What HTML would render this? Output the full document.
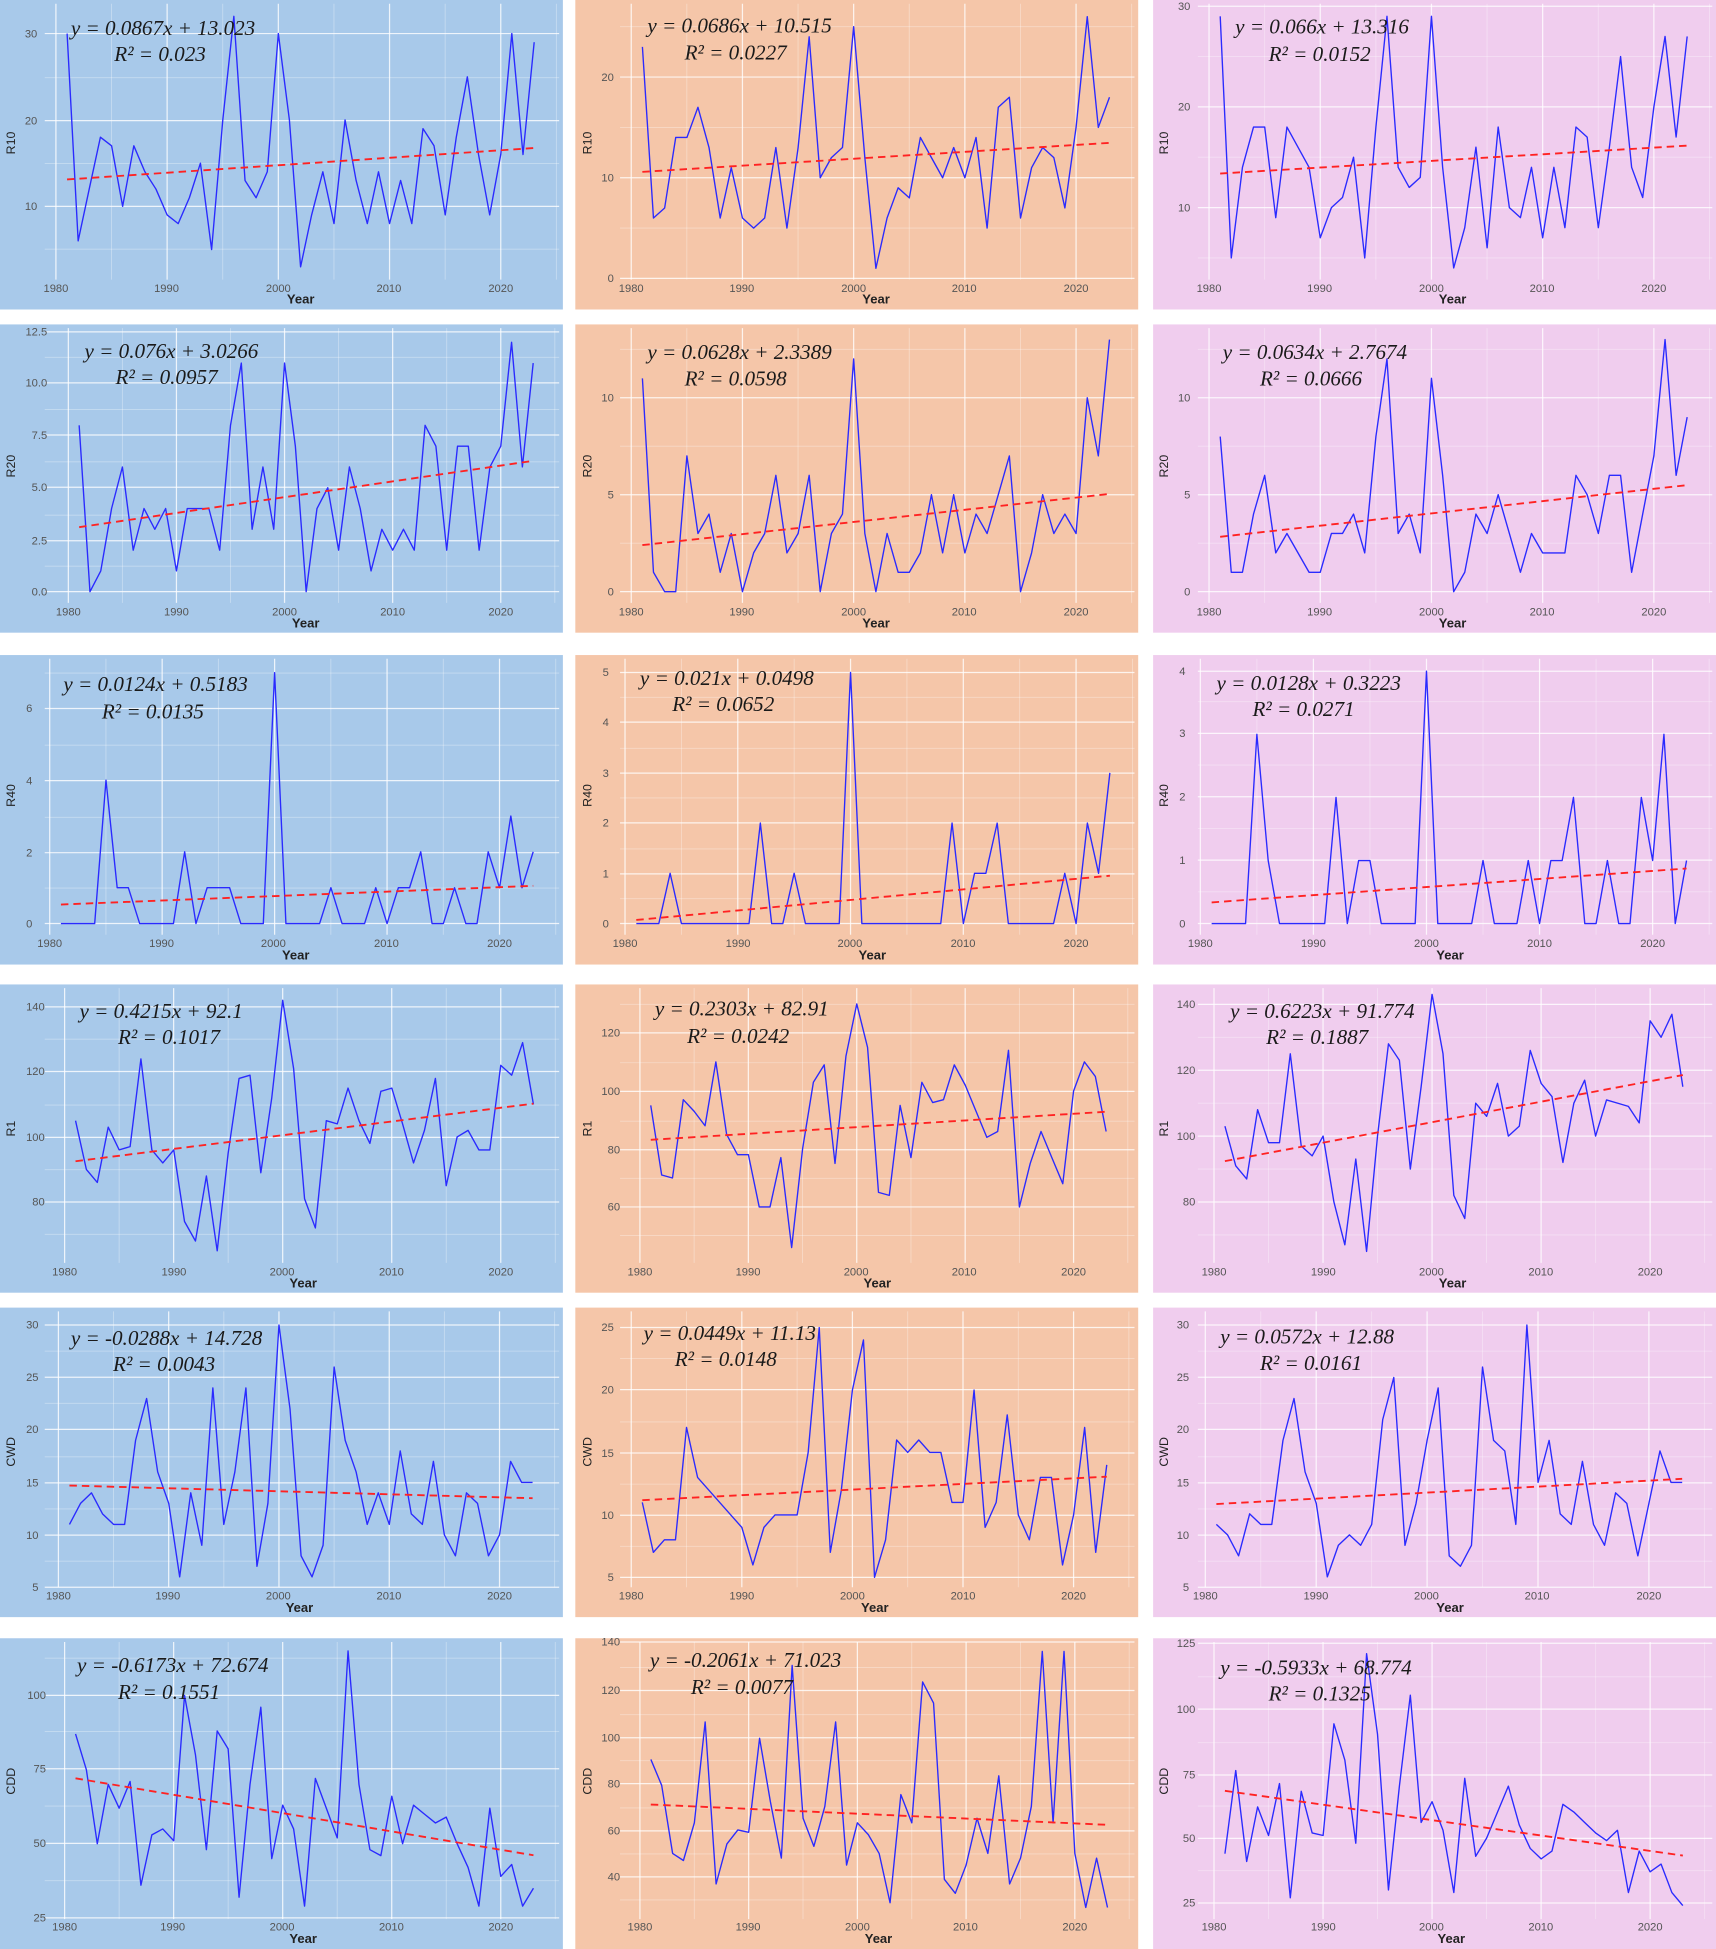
<!DOCTYPE html>
<html><head><meta charset="utf-8"><style>
html,body{margin:0;padding:0;background:#fff;}
svg{display:block;}
.t{font-family:"Liberation Sans",sans-serif;font-size:9px;fill:#555;}
.tk{text-anchor:end;}
.xt{text-anchor:middle;}
.yr{font-family:"Liberation Sans",sans-serif;font-size:10.5px;font-weight:bold;fill:#222;text-anchor:middle;}
.yl{font-family:"Liberation Sans",sans-serif;font-size:10px;fill:#222;text-anchor:middle;}
.eq{font-family:"Liberation Serif",serif;font-style:italic;font-size:17px;fill:#1a1a1a;}
</style></head><body>
<svg id="s" width="1716" height="1949" viewBox="0 0 1381 1568" preserveAspectRatio="none" xmlns="http://www.w3.org/2000/svg">
<g id="bg"></g>
<g id="tx">
<g class="t xt">
<text x="45" y="235">1980</text><text x="134" y="235">1990</text><text x="224" y="235">2000</text><text x="313" y="235">2010</text><text x="403" y="235">2020</text>
<text x="508" y="235">1980</text><text x="597" y="235">1990</text><text x="687" y="235">2000</text><text x="776" y="235">2010</text><text x="866" y="235">2020</text>
<text x="973" y="235">1980</text><text x="1062" y="235">1990</text><text x="1152" y="235">2000</text><text x="1241" y="235">2010</text><text x="1331" y="235">2020</text>
<text x="55" y="495">1980</text><text x="142" y="495">1990</text><text x="229" y="495">2000</text><text x="316" y="495">2010</text><text x="403" y="495">2020</text>
<text x="508" y="495">1980</text><text x="597" y="495">1990</text><text x="687" y="495">2000</text><text x="776" y="495">2010</text><text x="866" y="495">2020</text>
<text x="973" y="495">1980</text><text x="1062" y="495">1990</text><text x="1152" y="495">2000</text><text x="1241" y="495">2010</text><text x="1331" y="495">2020</text>
<text x="40" y="762">1980</text><text x="130" y="762">1990</text><text x="220" y="762">2000</text><text x="311" y="762">2010</text><text x="402" y="762">2020</text>
<text x="503" y="762">1980</text><text x="594" y="762">1990</text><text x="684" y="762">2000</text><text x="775" y="762">2010</text><text x="866" y="762">2020</text>
<text x="966" y="762">1980</text><text x="1057" y="762">1990</text><text x="1148" y="762">2000</text><text x="1239" y="762">2010</text><text x="1330" y="762">2020</text>
<text x="52" y="1026">1980</text><text x="140" y="1026">1990</text><text x="227" y="1026">2000</text><text x="315" y="1026">2010</text><text x="403" y="1026">2020</text>
<text x="515" y="1026">1980</text><text x="602" y="1026">1990</text><text x="689" y="1026">2000</text><text x="776" y="1026">2010</text><text x="864" y="1026">2020</text>
<text x="977" y="1026">1980</text><text x="1065" y="1026">1990</text><text x="1152" y="1026">2000</text><text x="1240" y="1026">2010</text><text x="1328" y="1026">2020</text>
<text x="47" y="1287">1980</text><text x="135" y="1287">1990</text><text x="224" y="1287">2000</text><text x="313" y="1287">2010</text><text x="402" y="1287">2020</text>
<text x="508" y="1287">1980</text><text x="597" y="1287">1990</text><text x="686" y="1287">2000</text><text x="775" y="1287">2010</text><text x="864" y="1287">2020</text>
<text x="970" y="1287">1980</text><text x="1059" y="1287">1990</text><text x="1148" y="1287">2000</text><text x="1237" y="1287">2010</text><text x="1327" y="1287">2020</text>
<text x="52" y="1553">1980</text><text x="139" y="1553">1990</text><text x="227" y="1553">2000</text><text x="315" y="1553">2010</text><text x="403" y="1553">2020</text>
<text x="515" y="1553">1980</text><text x="602" y="1553">1990</text><text x="690" y="1553">2000</text><text x="777" y="1553">2010</text><text x="865" y="1553">2020</text>
<text x="977" y="1553">1980</text><text x="1065" y="1553">1990</text><text x="1152" y="1553">2000</text><text x="1240" y="1553">2010</text><text x="1328" y="1553">2020</text>
</g>
<g class="yr">
<text x="242" y="244">Year</text><text x="705" y="244">Year</text><text x="1169" y="244">Year</text>
<text x="246" y="505">Year</text><text x="705" y="505">Year</text><text x="1169" y="505">Year</text>
<text x="238" y="772">Year</text><text x="702" y="772">Year</text><text x="1167" y="772">Year</text>
<text x="244" y="1036">Year</text><text x="706" y="1036">Year</text><text x="1169" y="1036">Year</text>
<text x="241" y="1297">Year</text><text x="704" y="1297">Year</text><text x="1167" y="1297">Year</text>
<text x="244" y="1563">Year</text><text x="707" y="1563">Year</text><text x="1168" y="1563">Year</text>
</g>
<g class="yl">
<text transform="translate(12,115) rotate(-90)">R10</text><text transform="translate(476,115) rotate(-90)">R10</text><text transform="translate(940,115) rotate(-90)">R10</text>
<text transform="translate(12,375) rotate(-90)">R20</text><text transform="translate(476,375) rotate(-90)">R20</text><text transform="translate(940,375) rotate(-90)">R20</text>
<text transform="translate(12,640) rotate(-90)">R40</text><text transform="translate(476,640) rotate(-90)">R40</text><text transform="translate(940,640) rotate(-90)">R40</text>
<text transform="translate(12,908) rotate(-90)">R1</text><text transform="translate(476,908) rotate(-90)">R1</text><text transform="translate(940,908) rotate(-90)">R1</text>
<text transform="translate(12,1168) rotate(-90)">CWD</text><text transform="translate(476,1168) rotate(-90)">CWD</text><text transform="translate(940,1168) rotate(-90)">CWD</text>
<text transform="translate(12,1433) rotate(-90)">CDD</text><text transform="translate(476,1433) rotate(-90)">CDD</text><text transform="translate(940,1433) rotate(-90)">CDD</text>
</g>
<g class="t tk">
<text x="30" y="169">10</text><text x="30" y="100">20</text><text x="30" y="30">30</text>
<text x="494" y="227">0</text><text x="494" y="146">10</text><text x="494" y="65">20</text>
<text x="958" y="170">10</text><text x="958" y="89">20</text><text x="958" y="8">30</text>
<text x="38" y="479">0.0</text><text x="38" y="438">2.5</text><text x="38" y="395">5.0</text><text x="38" y="353">7.5</text><text x="38" y="311">10.0</text><text x="38" y="270">12.5</text>
<text x="494" y="479">0</text><text x="494" y="401">5</text><text x="494" y="323">10</text>
<text x="958" y="479">0</text><text x="958" y="401">5</text><text x="958" y="323">10</text>
<text x="26" y="746">0</text><text x="26" y="689">2</text><text x="26" y="631">4</text><text x="26" y="573">6</text>
<text x="490" y="746">0</text><text x="490" y="706">1</text><text x="490" y="665">2</text><text x="490" y="625">3</text><text x="490" y="584">4</text><text x="490" y="544">5</text>
<text x="954" y="746">0</text><text x="954" y="695">1</text><text x="954" y="644">2</text><text x="954" y="593">3</text><text x="954" y="543">4</text>
<text x="36" y="970">80</text><text x="36" y="918">100</text><text x="36" y="865">120</text><text x="36" y="813">140</text>
<text x="499" y="974">60</text><text x="499" y="928">80</text><text x="499" y="881">100</text><text x="499" y="834">120</text>
<text x="962" y="970">80</text><text x="962" y="917">100</text><text x="962" y="864">120</text><text x="962" y="811">140</text>
<text x="31" y="1280">5</text><text x="31" y="1238">10</text><text x="31" y="1196">15</text><text x="31" y="1153">20</text><text x="31" y="1111">25</text><text x="31" y="1069">30</text>
<text x="494" y="1272">5</text><text x="494" y="1222">10</text><text x="494" y="1172">15</text><text x="494" y="1121">20</text><text x="494" y="1071">25</text>
<text x="957" y="1280">5</text><text x="957" y="1238">10</text><text x="957" y="1196">15</text><text x="957" y="1153">20</text><text x="957" y="1111">25</text><text x="957" y="1069">30</text>
<text x="37" y="1546">25</text><text x="37" y="1486">50</text><text x="37" y="1426">75</text><text x="37" y="1367">100</text>
<text x="499" y="1513">40</text><text x="499" y="1476">60</text><text x="499" y="1438">80</text><text x="499" y="1401">100</text><text x="499" y="1363">120</text><text x="499" y="1324">140</text>
<text x="962" y="1534">25</text><text x="962" y="1482">50</text><text x="962" y="1431">75</text><text x="962" y="1378">100</text><text x="962" y="1325">125</text>
</g>
<g class="eq">
<text x="57" y="28">y = 0.0867x + 13.023</text><text x="92" y="49">R² = 0.023</text>
<text x="521" y="26">y = 0.0686x + 10.515</text><text x="551" y="48">R² = 0.0227</text>
<text x="994" y="27">y = 0.066x + 13.316</text><text x="1021" y="49">R² = 0.0152</text>
<text x="68" y="288">y = 0.076x + 3.0266</text><text x="93" y="309">R² = 0.0957</text>
<text x="521" y="289">y = 0.0628x + 2.3389</text><text x="551" y="310">R² = 0.0598</text>
<text x="984" y="289">y = 0.0634x + 2.7674</text><text x="1014" y="310">R² = 0.0666</text>
<text x="51" y="556">y = 0.0124x + 0.5183</text><text x="82" y="578">R² = 0.0135</text>
<text x="515" y="551">y = 0.021x + 0.0498</text><text x="541" y="572">R² = 0.0652</text>
<text x="979" y="555">y = 0.0128x + 0.3223</text><text x="1008" y="576">R² = 0.0271</text>
<text x="64" y="819">y = 0.4215x + 92.1</text><text x="95" y="840">R² = 0.1017</text>
<text x="527" y="817">y = 0.2303x + 82.91</text><text x="553" y="839">R² = 0.0242</text>
<text x="990" y="819">y = 0.6223x + 91.774</text><text x="1019" y="840">R² = 0.1887</text>
<text x="57" y="1082">y = -0.0288x + 14.728</text><text x="91" y="1103">R² = 0.0043</text>
<text x="518" y="1078">y = 0.0449x + 11.13</text><text x="543" y="1099">R² = 0.0148</text>
<text x="982" y="1081">y = 0.0572x + 12.88</text><text x="1014" y="1102">R² = 0.0161</text>
<text x="62" y="1345">y = -0.6173x + 72.674</text><text x="95" y="1367">R² = 0.1551</text>
<text x="523" y="1341">y = -0.2061x + 71.023</text><text x="556" y="1363">R² = 0.0077</text>
<text x="982" y="1347">y = -0.5933x + 68.774</text><text x="1021" y="1368">R² = 0.1325</text>
</g>
</g>
</svg>
<script>
var NS="http://www.w3.org/2000/svg";
var bg=document.getElementById('bg');
function el(n,a){var e=document.createElementNS(NS,n);for(var k in a)e.setAttribute(k,a[k]);bg.appendChild(e);return e;}
var cols=[[0,453,'#a8c9ea'],[463,916,'#f5c6a9'],[928,1381,'#f0cdee']];
var rows=[[0,249],[261,509],[527,776],[792,1040],[1052,1301],[1318,1568]];
var xs=[[[45,403],[508,866],[973,1331]],[[55,403],[508,866],[973,1331]],[[40,402],[503,866],[966,1330]],[[52,403],[515,864],[977,1328]],[[47,402],[508,864],[970,1327]],[[52,403],[515,865],[977,1328]]];
var ticks=[
[[[10,166],[20,97],[30,27]],[[0,224],[10,143],[20,62]],[[10,167],[20,86],[30,5]]],
[[[0,476],[2.5,435],[5,392],[7.5,350],[10,308],[12.5,267]],[[0,476],[5,398],[10,320]],[[0,476],[5,398],[10,320]]],
[[[0,743],[2,686],[4,628],[6,570]],[[0,743],[1,703],[2,662],[3,622],[4,581],[5,541]],[[0,743],[1,692],[2,641],[3,590],[4,540]]],
[[[80,967],[100,915],[120,862],[140,810]],[[60,971],[80,925],[100,878],[120,831]],[[80,967],[100,914],[120,861],[140,808]]],
[[[5,1277],[10,1235],[15,1193],[20,1150],[25,1108],[30,1066]],[[5,1269],[10,1219],[15,1169],[20,1118],[25,1068]],[[5,1277],[10,1235],[15,1193],[20,1150],[25,1108],[30,1066]]],
[[[25,1543],[50,1483],[75,1423],[100,1364]],[[40,1510],[60,1473],[80,1435],[100,1398],[120,1360],[140,1321]],[[25,1531],[50,1479],[75,1428],[100,1375],[125,1322]]]];
var data=[
[[30,6,12,18,17,10,17,14,12,9,8,11,15,5,20,32,13,11,14,30,20,3,9,14,8,20,13,8,14,8,13,8,19,17,9,18,25,16,9,16,30,16,29],
 [23,6,7,14,14,17,13,6,11,6,5,6,13,5,13,24,10,12,13,25,12,1,6,9,8,14,12,10,13,10,14,5,17,18,6,11,13,12,7,15,26,15,18],
 [29,5,14,18,18,9,18,16,14,7,10,11,15,5,18,29,14,12,13,29,14,4,8,16,6,18,10,9,14,7,14,8,18,17,8,16,25,14,11,20,27,17,27]],
[[8,0,1,4,6,2,4,3,4,1,4,4,4,2,8,11,3,6,3,11,7,0,4,5,2,6,4,1,3,2,3,2,8,7,2,7,7,2,6,7,12,6,11],
 [11,1,0,0,7,3,4,1,3,0,2,3,6,2,3,6,0,3,4,12,3,0,3,1,1,2,5,2,5,2,4,3,5,7,0,2,5,3,4,3,10,7,13],
 [8,1,1,4,6,2,3,2,1,1,3,3,4,2,8,12,3,4,2,11,6,0,1,4,3,5,3,1,3,2,2,2,6,5,3,6,6,1,4,7,13,6,9]],
[[0,0,0,0,4,1,1,0,0,0,0,2,0,1,1,1,0,0,0,7,0,0,0,0,1,0,0,0,1,0,1,1,2,0,0,1,0,0,2,1,3,1,2],
 [0,0,0,1,0,0,0,0,0,0,0,2,0,0,1,0,0,0,0,5,0,0,0,0,0,0,0,0,2,0,1,1,2,0,0,0,0,0,1,0,2,1,3],
 [0,0,0,0,3,1,0,0,0,0,0,2,0,1,1,0,0,0,0,4,0,0,0,0,1,0,0,0,1,0,1,1,2,0,0,1,0,0,2,1,3,0,1]],
[[105,90,86,103,96,97,124,96,92,96,74,68,88,65,95,118,119,89,112,142,121,81,72,105,104,115,105,98,114,115,104,92,102,118,85,100,102,96,96,122,119,129,110],
 [95,71,70,97,93,88,110,85,78,78,60,60,77,46,80,103,109,75,112,130,115,65,64,95,77,103,96,97,109,102,93,84,86,114,60,75,86,77,68,100,110,105,86],
 [103,91,87,108,98,98,125,97,94,100,80,67,93,65,100,128,123,90,115,143,125,82,75,110,106,116,100,103,126,116,112,92,110,117,100,111,110,109,104,135,130,137,115]],
[[11,13,14,12,11,11,19,23,16,13,6,14,9,24,11,16,24,7,13,30,22,8,6,9,26,19,16,11,14,11,18,12,11,17,10,8,14,13,8,10,17,15,15],
 [11,7,8,8,17,13,12,11,10,9,6,9,10,10,10,15,25,7,12,20,24,5,8,16,15,16,15,15,11,11,20,9,11,18,10,8,13,13,6,10,17,7,14],
 [11,10,8,12,11,11,19,23,16,13,6,9,10,9,11,21,25,9,13,19,24,8,7,9,26,19,18,11,30,15,19,12,11,17,11,9,14,13,8,13,18,15,15]],
[[87,75,50,70,62,71,36,53,55,51,100,80,48,88,82,32,70,96,45,63,55,29,72,62,52,115,70,48,46,66,50,63,60,57,59,50,42,29,62,39,43,29,35],
 [90,79,50,47,63,106,37,54,60,59,99,72,48,130,65,53,70,106,45,63,58,50,29,75,63,123,114,39,33,45,65,50,83,37,48,70,136,63,136,50,27,48,27],
 [44,76,41,62,51,71,27,68,52,51,94,80,48,121,90,30,70,105,56,64,53,29,73,43,50,60,70,55,46,42,45,63,60,56,52,49,53,29,45,37,40,29,24]]];
var tr=[[[0.0867,13.023],[0.0686,10.515],[0.066,13.316]],[[0.076,3.0266],[0.0628,2.3389],[0.0634,2.7674]],[[0.0124,0.5183],[0.021,0.0498],[0.0128,0.3223]],[[0.4215,92.1],[0.2303,82.91],[0.6223,91.774]],[[-0.0288,14.728],[0.0449,11.13],[0.0572,12.88]],[[-0.6173,72.674],[-0.2061,71.023],[-0.5933,68.774]]];
for(var r=0;r<6;r++)for(var c=0;c<3;c++){
 var x0=cols[c][0],x1=cols[c][1],y0=rows[r][0],y1=rows[r][1];
 el('rect',{x:x0,y:y0,width:x1-x0,height:y1-y0,fill:cols[c][2]});
 var X=xs[r][c],T=ticks[r][c];
 var px=function(yr){return X[0]+(yr-1980)*(X[1]-X[0])/40;};
 var t0=T[0],t1=T[T.length-1];
 var py=function(v){return t0[1]+(v-t0[0])*(t1[1]-t0[1])/(t1[0]-t0[0]);};
 var pl=x0+36,pr=x1-3,pt=y0+3,pb=y1-24;
 var step=(T.length>1)?(T[1][1]-T[0][1]):50;
 for(var i=0;i<T.length;i++){el('line',{x1:pl,x2:pr,y1:T[i][1],y2:T[i][1],stroke:'#fff','stroke-opacity':0.8,'stroke-width':1});
  var m=T[i][1]+step/2; if(m>pt&&m<pb)el('line',{x1:pl,x2:pr,y1:m,y2:m,stroke:'#fff','stroke-opacity':0.35,'stroke-width':0.7});
  if(i==0){m=T[0][1]-step/2; if(m>pt&&m<pb)el('line',{x1:pl,x2:pr,y1:m,y2:m,stroke:'#fff','stroke-opacity':0.35,'stroke-width':0.7});}}
 for(var yr=1980;yr<=2020;yr+=10){el('line',{x1:px(yr),x2:px(yr),y1:pt,y2:pb,stroke:'#fff','stroke-opacity':0.8,'stroke-width':1});
  el('line',{x1:px(yr+5),x2:px(yr+5),y1:pt,y2:pb,stroke:'#fff','stroke-opacity':0.35,'stroke-width':0.7});}
 var d=data[r][c],pts=[];
 for(var i=0;i<d.length;i++)pts.push(px(1981+i).toFixed(1)+','+py(d[i]).toFixed(1));
 el('polyline',{points:pts.join(' '),fill:'none',stroke:'#2a2aff','stroke-width':1.1,'stroke-linejoin':'round'});
 var a=tr[r][c][0],b=tr[r][c][1];
 el('line',{x1:px(1981),y1:py(a+b),x2:px(2023),y2:py(a*43+b),stroke:'#f22','stroke-width':1.5,'stroke-dasharray':'6,4'});
}
</script>
</body></html>
